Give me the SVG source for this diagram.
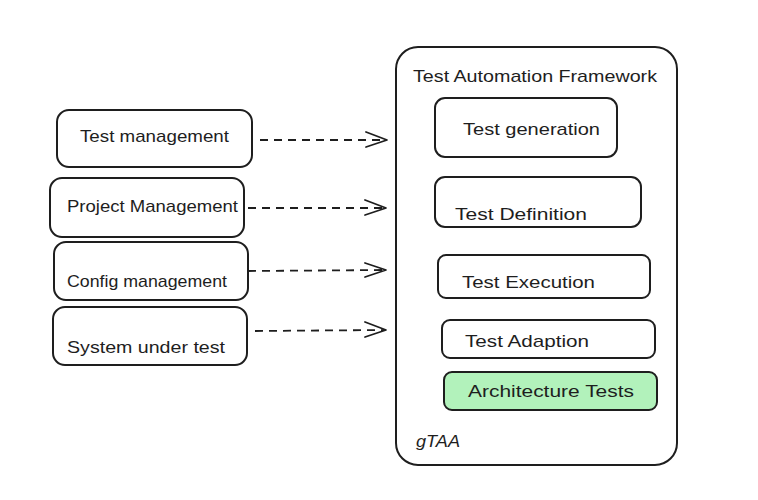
<svg xmlns="http://www.w3.org/2000/svg" width="758" height="500" viewBox="0 0 758 500">
<defs>
<style>
.box{fill:#ffffff;stroke:#1e1e1e;stroke-width:2}
.green{fill:#b2f2bb;stroke:#1e1e1e;stroke-width:2}
.lbl{font-family:"Liberation Sans","DejaVu Sans",sans-serif;font-size:17px;fill:#1e1e1e}
.conn{fill:none;stroke:#1e1e1e;stroke-width:1.8;stroke-dasharray:8 6}
.head{fill:none;stroke:#1e1e1e;stroke-width:1.8;stroke-linecap:round;stroke-linejoin:round}
</style>
</defs>
<rect width="758" height="500" fill="#ffffff"/>
<g id="framework">
<rect class="box" x="396" y="47" width="281" height="418" rx="22"/>
<text class="lbl" x="413" y="82" textLength="244" lengthAdjust="spacingAndGlyphs">Test Automation Framework</text>
<text class="lbl" x="416" y="447" textLength="44" lengthAdjust="spacingAndGlyphs" font-style="italic">gTAA</text>
</g>
<g id="test-generation">
<rect class="box" x="435" y="98" width="182" height="59" rx="10"/>
<text class="lbl" x="463" y="135" textLength="137" lengthAdjust="spacingAndGlyphs">Test generation</text>
</g>
<g id="test-definition">
<rect class="box" x="435" y="177" width="206" height="50" rx="10"/>
<text class="lbl" x="455" y="220" textLength="132" lengthAdjust="spacingAndGlyphs">Test Definition</text>
</g>
<g id="test-execution">
<rect class="box" x="438" y="255" width="212" height="43" rx="8"/>
<text class="lbl" x="462" y="288" textLength="133" lengthAdjust="spacingAndGlyphs">Test Execution</text>
</g>
<g id="test-adaption">
<rect class="box" x="442" y="320" width="213" height="38" rx="8"/>
<text class="lbl" x="465" y="347" textLength="124" lengthAdjust="spacingAndGlyphs">Test Adaption</text>
</g>
<g id="architecture-tests">
<rect class="green" x="444" y="372" width="213" height="38" rx="8"/>
<text class="lbl" x="468" y="397" textLength="166" lengthAdjust="spacingAndGlyphs">Architecture Tests</text>
</g>
<g id="test-management">
<rect class="box" x="57" y="110" width="195" height="57" rx="12"/>
<text class="lbl" x="80" y="142" textLength="149" lengthAdjust="spacingAndGlyphs">Test management</text>
</g>
<g id="project-management">
<rect class="box" x="50" y="178" width="194" height="59" rx="12"/>
<text class="lbl" x="67" y="212" textLength="171" lengthAdjust="spacingAndGlyphs">Project Management</text>
</g>
<g id="config-management">
<rect class="box" x="54" y="242" width="194" height="58" rx="12"/>
<text class="lbl" x="67" y="287" textLength="160" lengthAdjust="spacingAndGlyphs">Config management</text>
</g>
<g id="system-under-test">
<rect class="box" x="53" y="307" width="194" height="58" rx="12"/>
<text class="lbl" x="67" y="353" textLength="158" lengthAdjust="spacingAndGlyphs">System under test</text>
</g>
<g id="connectors">
<line class="conn" x1="260" y1="140" x2="386" y2="140"/>
<polyline class="head" points="366,132 387,140 366,147"/>
<line class="conn" x1="248" y1="208" x2="385" y2="208"/>
<polyline class="head" points="365,200 386,208 365,215"/>
<line class="conn" x1="248" y1="271" x2="385" y2="270"/>
<polyline class="head" points="365,263 386,270 365,277"/>
<line class="conn" x1="255" y1="331" x2="385" y2="330"/>
<polyline class="head" points="365,322 386,330 365,337"/>
</g>
</svg>
